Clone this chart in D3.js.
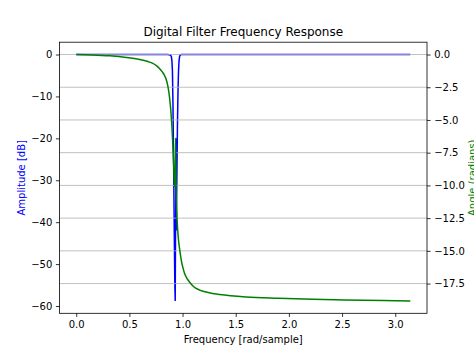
<!DOCTYPE html>
<html>
<head>
<meta charset="utf-8">
<script src="https://cdn.jsdelivr.net/npm/d3@7"></script>
<style>
  body { margin: 0; background: #fff; }
  text { font-family: "DejaVu Sans", sans-serif; }
</style>
</head>
<body>
<div id="chart"></div>
<script>
// amplitude response (blue)
const ampFreq = [0, 0.5, 0.86, 0.885, 0.895, 0.9, 0.905, 0.91, 0.916, 0.922, 0.927, 0.931,
                 0.934, 0.936, 0.938, 0.94, 0.943, 0.947, 0.952, 0.957, 0.962, 0.967, 0.972, 0.978, 0.99, 1.5, 3.14159];
const ampDb  = [0, 0, 0, -0.1, -0.5, -1.5, -4, -12, -26, -42, -54, -58.8,
                -42, -38, -20, -42, -38, -28, -17, -9, -4, -1.5, -0.5, -0.1, 0, 0, 0];

// phase response (green)
const phaseFreq = [0, 0.15, 0.315, 0.47, 0.597, 0.68, 0.72, 0.754, 0.785, 0.81, 0.832, 0.85,
                   0.865, 0.878, 0.89, 0.9, 0.908, 0.916, 0.925, 0.931, 0.935, 0.94, 0.948,
                   0.96, 0.975, 0.99, 1.004, 1.02, 1.045, 1.067, 1.1, 1.161, 1.25, 1.349, 1.6, 1.9, 2.226, 2.7, 3.14159];
const phaseRad  = [0, -0.03, -0.1, -0.22, -0.38, -0.55, -0.68, -0.85, -1.08, -1.33, -1.62, -2.0,
                   -2.55, -3.3, -4.3, -5.5, -6.8, -8.3, -10.1, -9.2, -6.4, -10.5, -12.5,
                   -14.0, -15.0, -15.8, -16.3, -16.75, -17.15, -17.4, -17.7, -18.0, -18.2, -18.33, -18.52, -18.62, -18.7, -18.77, -18.83];

const xTicks = [0, 0.5, 1, 1.5, 2, 2.5, 3];
const ampTicks = [0, -10, -20, -30, -40, -50, -60];
const angleTicks = [0, -2.5, -5, -7.5, -10, -12.5, -15, -17.5];

const width = 474, height = 352;
const margin = {left: 59.5, right: 47, top: 42.2, bottom: 38.7};
const iw = width - margin.left - margin.right,
      ih = height - margin.top - margin.bottom;

// matplotlib-like 5% margins
const pad = ([a, b]) => [a - (b - a) * 0.05, b + (b - a) * 0.05];

const x = d3.scaleLinear().domain(pad(d3.extent(ampFreq))).range([0, iw]);
const yAmp = d3.scaleLinear().domain(pad(d3.extent(ampDb))).range([ih, 0]);
const yAng = d3.scaleLinear().domain(pad(d3.extent(phaseRad))).range([ih, 0]);

const svg = d3.select("#chart").append("svg")
  .attr("width", width)
  .attr("height", height);

const g = svg.append("g").attr("transform", `translate(${margin.left},${margin.top})`);

// blue amplitude line (lower axes)
const ampLine = d3.line().x((d, i) => x(ampFreq[i])).y(d => yAmp(d));
g.append("path")
  .datum(ampDb)
  .attr("fill", "none")
  .attr("stroke", "#0000ff")
  .attr("stroke-width", 1.5)
  .attr("d", ampLine);

// grid from the angle axis
g.selectAll("line.grid")
  .data(angleTicks)
  .enter().append("line")
  .attr("class", "grid")
  .attr("x1", 0).attr("x2", iw)
  .attr("y1", d => yAng(d)).attr("y2", d => yAng(d))
  .attr("stroke", "#b0b0b0")
  .attr("stroke-width", 0.8);

// green phase line
const phaseLine = d3.line()
  .curve(d3.curveMonotoneX)
  .x((d, i) => x(phaseFreq[i]))
  .y(d => yAng(d));
g.append("path")
  .datum(phaseRad)
  .attr("fill", "none")
  .attr("stroke", "#008000")
  .attr("stroke-width", 1.5)
  .attr("d", phaseLine);

// frame
g.append("rect")
  .attr("width", iw).attr("height", ih)
  .attr("fill", "none")
  .attr("stroke", "#000")
  .attr("stroke-width", 0.8);

function styleAxis(sel) {
  sel.select(".domain").remove();
  sel.selectAll(".tick line").attr("stroke", "#000").attr("stroke-width", 0.8);
  sel.selectAll(".tick text").attr("fill", "#000").style("font-size", "10px");
}

g.append("g")
  .attr("transform", `translate(0,${ih})`)
  .call(d3.axisBottom(x).tickValues(xTicks).tickFormat(d3.format(".1f")).tickSizeOuter(0).tickSize(3.6).tickPadding(3.6))
  .call(styleAxis);

g.append("g")
  .call(d3.axisLeft(yAmp).tickValues(ampTicks).tickFormat(d3.format("d")).tickSizeOuter(0).tickSize(3.6).tickPadding(3.6))
  .call(styleAxis);

g.append("g")
  .attr("transform", `translate(${iw},0)`)
  .call(d3.axisRight(yAng).tickValues(angleTicks).tickFormat(d3.format(".1f")).tickSizeOuter(0).tickSize(3.6).tickPadding(3.6))
  .call(styleAxis);

// texts
svg.append("text")
  .attr("x", margin.left + iw / 2).attr("y", 36)
  .attr("text-anchor", "middle")
  .style("font-size", "12px")
  .text("Digital Filter Frequency Response");

svg.append("text")
  .attr("x", margin.left + iw / 2).attr("y", 343)
  .attr("text-anchor", "middle")
  .style("font-size", "10px")
  .text("Frequency [rad/sample]");

svg.append("text")
  .attr("transform", `translate(25,${margin.top + ih / 2}) rotate(-90)`)
  .attr("text-anchor", "middle")
  .attr("fill", "#0000ff")
  .style("font-size", "10px")
  .text("Amplitude [dB]");

svg.append("text")
  .attr("transform", `translate(476,${margin.top + ih / 2}) rotate(-90)`)
  .attr("text-anchor", "middle")
  .attr("fill", "#008000")
  .style("font-size", "10px")
  .text("Angle (radians)");
</script>
</body>
</html>
